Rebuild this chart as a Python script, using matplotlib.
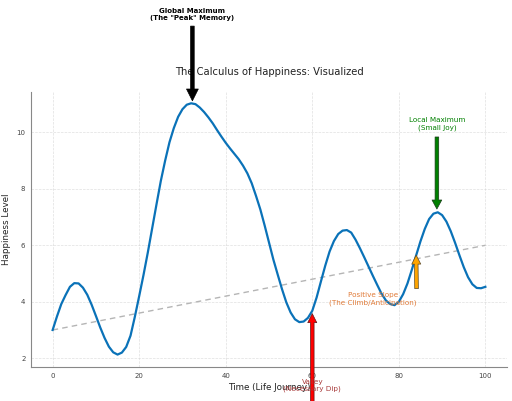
import matplotlib
matplotlib.use("Agg")
import matplotlib.pyplot as plt

# ---- data ----
time = list(range(0, 101))
happiness = [
    3.00, 3.48, 3.92, 4.24, 4.53, 4.66, 4.65, 4.50, 4.25, 3.90,   # 0-9
    3.50, 3.09, 2.72, 2.41, 2.21, 2.13, 2.20, 2.40, 2.80, 3.47,   # 10-19
    4.20, 4.95, 5.75, 6.60, 7.45, 8.28, 9.00, 9.65, 10.15, 10.55, # 20-29
    10.82, 10.98, 11.03, 11.00, 10.88, 10.72, 10.53, 10.32, 10.08, 9.85,  # 30-39
    9.63, 9.43, 9.24, 9.05, 8.82, 8.55, 8.20, 7.75, 7.27, 6.70,   # 40-49
    6.10, 5.50, 4.97, 4.45, 3.98, 3.62, 3.38, 3.28, 3.30, 3.43,   # 50-59
    3.68, 4.15, 4.72, 5.28, 5.78, 6.15, 6.40, 6.52, 6.54, 6.45,   # 60-69
    6.20, 5.90, 5.58, 5.25, 4.92, 4.60, 4.29, 4.05, 3.92, 3.88,   # 70-79
    4.00, 4.27, 4.65, 5.13, 5.64, 6.14, 6.58, 6.93, 7.12, 7.17,   # 80-89
    7.07, 6.84, 6.50, 6.09, 5.65, 5.23, 4.87, 4.62, 4.49, 4.48,   # 90-99
    4.53,                                                         # 100
]
trend_x = [0, 100]
trend_y = [3.0, 6.0]

x_ticks = [0, 20, 40, 60, 80, 100]
y_ticks = [2, 4, 6, 8, 10]

global_max = (32.3, 11.03)
local_max = (88.8, 7.17)
slope_pt = (84.0, 5.68)
valley_pt = (60.0, 3.58)

plt.rcParams['font.family'] = ['DejaVu Sans']

fig = plt.figure(figsize=(5.12, 4.01), dpi=100)
ax = fig.add_axes([31 / 512, 34 / 401, 476 / 512, 275 / 401])

ax.plot(trend_x, trend_y, linestyle=(0, (4, 3)), color='#b5b5b5', linewidth=1.0, zorder=2)
ax.plot(time, happiness, color='#0a72b8', linewidth=1.6, zorder=3)

ax.set_xlim(-5, 105)
ax.set_ylim(1.69, 11.43)
ax.set_xticks(x_ticks)
ax.set_yticks(y_ticks)
ax.tick_params(axis='both', length=0, labelsize=5, labelcolor='#444444', pad=4)

for s in ['top', 'right']:
    ax.spines[s].set_visible(False)
for s in ['left', 'bottom']:
    ax.spines[s].set_color('#888888')
    ax.spines[s].set_linewidth(0.8)

ax.grid(True, linestyle='--', linewidth=0.5, color='#cccccc', alpha=0.6)
ax.set_axisbelow(True)

ax.set_title('The Calculus of Happiness: Visualized', fontsize=7.2, color='#222222', pad=12)
ax.set_xlabel('Time (Life Journey)', fontsize=6.3, color='#222222', labelpad=3)
ax.set_ylabel('Happiness Level', fontsize=6.3, color='#222222', labelpad=4)

# Global maximum
ax.annotate('Global Maximum\n(The "Peak" Memory)', xy=global_max, xytext=(global_max[0], 13.95),
            ha='center', va='bottom', fontsize=5.0, fontweight='bold', color='black',
            arrowprops=dict(facecolor='black', edgecolor='black', width=2.6, headwidth=8.5,
                            headlength=8.5, shrink=0.03, linewidth=0.5),
            annotation_clip=False, zorder=5)

# Local maximum
ax.annotate('Local Maximum\n(Small Joy)', xy=local_max, xytext=(local_max[0], 10.05),
            ha='center', va='bottom', fontsize=5.2, color='green',
            arrowprops=dict(facecolor='green', edgecolor='#1a3a1a', width=2.6, headwidth=7,
                            headlength=6.5, shrink=0.04, linewidth=0.5),
            zorder=5)

# Positive slope
ax.annotate('Positive Slope\n(The Climb/Anticipation)', xy=slope_pt, xytext=(74.0, 4.34),
            ha='center', va='top', fontsize=5.2, color='#e07b39',
            arrowprops=dict(facecolor='orange', edgecolor='#5a4a2a', width=2.6, headwidth=6.5,
                            headlength=6.5, shrink=0.02, linewidth=0.5),
            zorder=5)

# Valley
ax.annotate('', xy=valley_pt, xytext=(valley_pt[0], 0.2),
            arrowprops=dict(facecolor='red', edgecolor='#5a1a1a', width=2.6, headwidth=6.5,
                            headlength=6.5, shrink=0.0, linewidth=0.5),
            annotation_clip=False, zorder=5)
ax.text(valley_pt[0], 1.27, 'Valley\n(Necessary Dip)', ha='center', va='top', fontsize=5.2,
        color='#a83a3a', zorder=6, clip_on=False)

fig.savefig('out.png', dpi=100)
